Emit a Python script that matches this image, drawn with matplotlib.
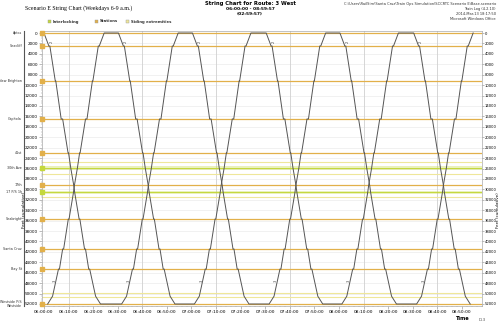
import matplotlib
matplotlib.use("Agg")
import matplotlib.pyplot as plt
from matplotlib.patches import Rectangle

# ---------------- data ----------------
station_names = ["Aptos", "Seacliff", "New Brighton", "Capitola", "41st",
                 "30th Ave", "17th", "17 P/S 1h", "Seabright", "Santa Cruz",
                 "Bay St", "Westside P/S\nWestside"]
station_feet = [0, 2500, 9200, 16500, 23000, 25900, 29200, 30600,
                35700, 41450, 45300, 52000]
station_kind = ["S", "S", "S", "S", "S", "I", "S", "I", "S", "S", "S", "S"]
siding_feet = [24700, 27000, 31400, 49900, 50700]

# one westbound run (minutes after departure, feet)
wb_min = [0, 2.0, 2.4, 4.6, 4.8, 7.0, 7.6, 9.8, 10.0, 10.9, 12.1, 12.5,
          14.3, 14.6, 16.5, 16.9, 18.2, 18.6, 21.0, 23.0]
wb_feet = [0, 2500, 2500, 9200, 9200, 16500, 16500, 23000, 23000, 25900,
           29200, 30600, 35700, 35700, 41450, 41450, 45300, 45300, 50500, 52000]

# departures (minutes after 06:00)
train_a_down = [0.0, 60.4, 120.4]
train_a_up = [31.6, 91.6, 151.6]
train_b_up = [1.5, 61.2, 121.2]
train_b_down = [30.3, 90.4, 150.4]

time_labels = ["06:00:00", "06:10:00", "06:20:00", "06:30:00", "06:40:00",
               "06:50:00", "07:00:00", "07:10:00", "07:20:00", "07:30:00",
               "07:40:00", "07:50:00", "08:00:00", "08:10:00", "08:20:00",
               "08:30:00", "08:40:00", "08:50:00"]

# ---------------- helpers ----------------
trip_len = wb_min[-1]
eb_min = [trip_len - m for m in wb_min[::-1]]
eb_feet = wb_feet[::-1]


def build(downs, ups):
    segs = []
    for d in downs:
        segs.append(([d + m for m in wb_min], wb_feet))
    for u in ups:
        segs.append(([u + m for m in eb_min], eb_feet))
    segs.sort(key=lambda s: s[0][0])
    xs, ys = [], []
    for sx, sy in segs:
        xs += sx
        ys += sy
    return xs, ys


fig = plt.figure(figsize=(5.0, 3.24), dpi=100)
ax = fig.add_axes([42 / 500, 1 - 306 / 324, 440 / 500, 275 / 324])

c_station = "#e2b04a"
c_inter = "#c4d83c"
c_siding = "#efe79a"

# gridlines
for v in range(0, 52001, 2000):
    ax.axhline(v, color="#ececec", lw=0.5, zorder=0)
for t in range(10, 180, 30):
    ax.axvline(t, color="#d0d0d0", lw=0.6, zorder=0)

for f in siding_feet:
    ax.axhline(f, color=c_siding, lw=0.8, zorder=1)
for f, k in zip(station_feet, station_kind):
    if k == "S":
        ax.axhline(f, color=c_station, lw=0.9, zorder=1)
    else:
        ax.axhspan(f - 300, f + 300, color=c_inter, alpha=0.35, lw=0, zorder=1)
        ax.axhline(f, color=c_inter, lw=0.7, zorder=1)
    ax.plot([-0.6], [f], marker="s", ms=2.6,
            color=c_station if k == "S" else c_inter, clip_on=False, zorder=4)

xa, ya = build(train_a_down, train_a_up)
xb, yb = build(train_b_down, train_b_up)
ax.plot(xa, ya, color="#555555", lw=0.7, zorder=3)
ax.plot(xb, yb, color="#555555", lw=0.7, zorder=3)

# small train numbers
for d in train_a_down + train_b_down:
    ax.text(d + 2.2, 1800, "2", fontsize=2.6, color="#444", rotation=90)
for u in train_a_up + train_b_up:
    ax.text(u + 2.0, 47500, "3", fontsize=2.6, color="#444", rotation=90)

ax.set_xlim(-0.8, 178.2)
ax.set_ylim(52384, -384)

ax.set_xticks(range(0, 171, 10))
ax.set_xticklabels(time_labels, fontsize=3.2)
ax.set_yticks(range(0, 52001, 2000))
ax.set_yticklabels([str(v) for v in range(0, 52001, 2000)], fontsize=3.0)
ax.minorticks_on()
ax.tick_params(axis="both", which="major", length=2, width=0.4, pad=1, color="#888")
ax.tick_params(axis="both", which="minor", length=1, width=0.3, color="#888")
for s in ax.spines.values():
    s.set_color("#aaaaaa")
    s.set_linewidth(0.5)

ax2 = ax.twinx()
ax2.set_ylim(52384, -384)
ax2.set_yticks(range(0, 52001, 2000))
ax2.set_yticklabels([str(v) for v in range(0, 52001, 2000)], fontsize=2.7)
ax2.tick_params(axis="y", length=1.5, width=0.4, pad=0.6, color="#888")
for s in ax2.spines.values():
    s.set_visible(False)
ax2.set_ylabel("Feet (cumulative)", fontsize=2.9)
ax2.yaxis.set_label_coords(1.031, 0.35)

ax.set_ylabel("Feet (cumulative)", fontsize=3.0)
ax.yaxis.set_label_coords(-0.036, 0.35)

# station labels on far left
for name, f in zip(station_names, station_feet):
    y = 1 - (33 + f / 52000 * 271) / 324
    fig.text(22 / 500, y, name, fontsize=2.4, ha="right", va="center",
             color="#333", linespacing=1.0)
fig.add_artist(plt.Line2D([24 / 500, 24 / 500], [1 - 306 / 324, 1 - 31 / 324],
                          color="#555", lw=0.8))

# titles
fig.text(25 / 500, 1 - 8 / 324, "Scenario E String Chart (Weekdays 6-9 a.m.)",
         fontsize=4.2, ha="left", va="center", family="Liberation Serif")
fig.text(250 / 500, 1 - 4 / 324, "String Chart for Route: 3 West", fontsize=3.8,
         ha="center", va="center", weight="bold")
fig.text(250 / 500, 1 - 9 / 324, "06:00:00 - 08:59:57", fontsize=3.2,
         ha="center", va="center", weight="bold")
fig.text(250 / 500, 1 - 14 / 324, "(02:59:57)", fontsize=3.2,
         ha="center", va="center", weight="bold")
right_lines = ["C:\\Users\\RailSim\\Santa Cruz\\Train Ops Simulation\\SCCRTC Scenario E\\Base.scenario",
               "Train Log (4.2.10)",
               "2014-Mar-13 18:17:50",
               "Microsoft Windows Office"]
for i, ln in enumerate(right_lines):
    fig.text(496 / 500, 1 - (4 + i * 5) / 324, ln, fontsize=2.6, ha="right",
             va="center", color="#333")

# legend row
leg = [("Interlocking", c_inter), ("Stations", c_station), ("Siding extremities", c_siding)]
lx = [48, 95, 126]
for (lab, col), x0 in zip(leg, lx):
    fig.add_artist(Rectangle((x0 / 500, 1 - 23 / 324), 3 / 500, 3 / 324,
                             transform=fig.transFigure, facecolor=col,
                             edgecolor="#999", lw=0.3))
    fig.text((x0 + 5) / 500, 1 - 21.5 / 324, lab, fontsize=2.8, va="center",
             weight="bold", color="#333")

fig.text(463 / 500, 1 - 318 / 324, "Time", fontsize=3.6, ha="center",
         va="center", weight="bold")
fig.text(482 / 500, 1 - 320 / 324, "D-3", fontsize=3.0, ha="center",
         va="center", color="#555")

fig.savefig("out.png", dpi=100)
